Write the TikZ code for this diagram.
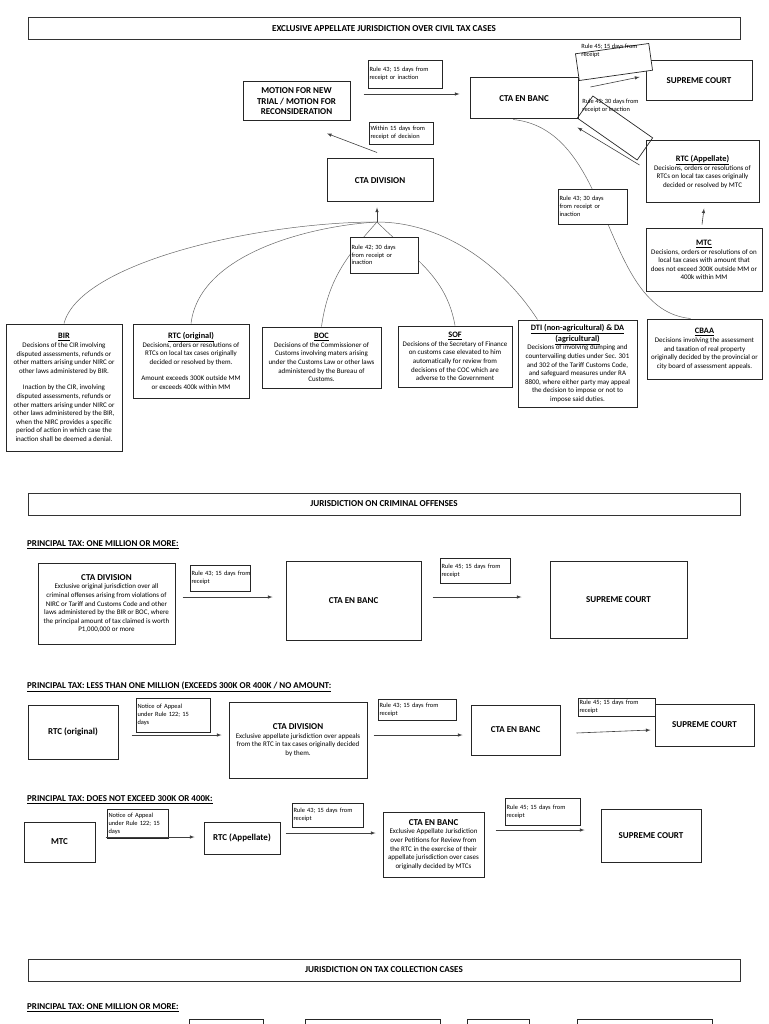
\documentclass[tikz,border=0pt]{standalone}
\usepackage{fontspec}
\setmainfont{Carlito}
\usetikzlibrary{arrows}

\tikzset{
  court/.style={draw=black!85,fill=white,line width=1pt,align=center,inner sep=1.5pt,
    font=\fontsize{7}{8.6}\selectfont},
  ctahead/.style={font=\fontsize{9}{10.5}\bfseries\selectfont},
  rulebox/.style={draw=black!85,fill=white,line width=0.7pt,align=left,inner xsep=1.5pt,inner ysep=2.5pt,
    font=\fontsize{6.4}{7.8}\selectfont},
  banner/.style={draw=black!80,line width=1pt,minimum width=712pt,minimum height=22pt,
    font=\fontsize{9.1}{11}\bfseries\selectfont},
  tierhead/.style={anchor=west,inner sep=0pt,font=\fontsize{9}{11}\bfseries\selectfont},
  flow/.style={draw=black!75,line width=0.6pt,->,>=latex},
  branch/.style={draw=black!60,line width=0.5pt}
}
\newcommand{\court}[7][]{\node[court,minimum width=#5pt,minimum height=#6pt,#1] (#2) at (#3,#4) {#7};}
\newcommand{\rulebox}[6]{\node[rulebox,minimum width=#4pt,minimum height=#5pt,text width=#4pt-3pt] (#1) at (#2,#3) {#6};}
\newcommand{\ctahd}[1]{{\fontsize{9}{10.5}\bfseries\selectfont #1}}
\newcommand{\ctitle}[1]{{\fontsize{8.3}{10}\bfseries\selectfont\underline{#1}}}
\newcommand{\flow}[2]{\draw[flow] (#1) -- (#2);}

\begin{document}
\begin{tikzpicture}[x=1pt,y=-1pt]
    \clip (0,0) rectangle (768,1024);
    \node[banner] (civil) at (384,28.5) {EXCLUSIVE APPELLATE JURISDICTION OVER CIVIL TAX CASES};
    \court[ctahead]{motion}{296.5}{101.5}{107}{39}{MOTION FOR NEW\\TRIAL / MOTION FOR\\RECONSIDERATION}
    \court[ctahead]{ebanc}{524}{98.5}{108}{41}{CTA EN BANC}
    \court[ctahead]{sc}{699}{81}{106}{40}{SUPREME COURT}
    \court[ctahead]{div}{380}{180.5}{106}{43}{CTA DIVISION}
    \court{rtcapp}{702.5}{172}{113}{62}{\ctitle{RTC (Appellate)}\\Decisions, orders or resolutions of\\RTCs on local tax cases originally\\decided or resolved by MTC}
    \court{mtc}{704}{260}{116}{62}{\ctitle{MTC}\\Decisions, orders or resolutions of on\\local tax cases with amount that\\does not exceed 300K outside MM or\\400k within MM}
    \court{bir}{64}{387.5}{116}{127}{\ctitle{BIR}\\Decisions of the CIR involving\\disputed assessments, refunds or\\other matters arising under NIRC or\\other laws administered by BIR.\\[8pt]Inaction by the CIR, involving\\disputed assessments, refunds or\\other matters arising under NIRC or\\other laws administered by the BIR,\\when the NIRC provides a specific\\period of action in which case the\\inaction shall be deemed a denial.}
    \court{rtco}{191}{361}{116}{74}{\ctitle{RTC (original)}\\Decisions, orders or resolutions of\\RTCs on local tax cases originally\\decided or resolved by them.\\[8pt]Amount exceeds 300K outside MM\\or exceeds 400k within MM}
    \court{boc}{321.5}{357.5}{119}{61}{\ctitle{BOC}\\Decisions of the Commissioner of\\Customs involving maters arising\\under the Customs Law or other laws\\administered by the Bureau of\\Customs.}
    \court{sof}{455}{356.5}{114}{61}{\ctitle{SOF}\\Decisions of the Secretary of Finance\\on customs case elevated to him\\automatically for review from\\decisions of the COC which are\\adverse to the Government}
    \court{dti}{577.5}{363.5}{119}{87}{\ctitle{DTI (non-agricultural) \& DA}\\\ctitle{(agricultural)}\\Decisions of involving dumping and\\countervailing duties under Sec. 301\\and 302 of the Tariff Customs Code,\\and safeguard measures under RA\\8800, where either party may appeal\\the decision to impose or not to\\impose said duties.}
    \court{cbaa}{704.5}{349}{115}{60}{\ctitle{CBAA}\\Decisions involving the assessment\\and taxation of real property\\originally decided by the provincial or\\city board of assessment appeals.}

    \coordinate (apex) at (377,222);
    \draw[branch] (apex) .. controls (260,222) and (80,262) .. (bir.north);
    \draw[branch] (apex) .. controls (320,225) and (200,250) .. (rtco.north);
    \draw[branch] (apex) to[out=228,in=82] (boc.north);
    \draw[branch] (apex) to[out=-45,in=100] (sof.north);
    \draw[branch] (apex) .. controls (440,222) and (500,262) .. ([xshift=20pt]dti.north west);
    \draw[branch] ([xshift=-11pt]ebanc.south) .. controls (615,130) and (600,310) .. ([xshift=-14pt]cbaa.north);
    \flow{apex}{[xshift=-3pt,yshift=-5pt]div.south}
    \flow{[xshift=-3pt,yshift=6pt]div.north}{[xshift=30.5pt,yshift=-12pt]motion.south}
    \flow{[xshift=13pt,yshift=7.5pt]motion.east}{[xshift=-10pt,yshift=4.5pt]ebanc.west}
    \flow{[xshift=12pt,yshift=11.5pt]ebanc.east}{[xshift=-6pt,yshift=4pt]sc.west}
    \flow{[xshift=-6pt,yshift=7pt]rtcapp.west}{[xshift=-1pt,yshift=-8pt]ebanc.south east}
    \flow{[xshift=-2pt,yshift=4pt]mtc.north}{[xshift=1.5pt,yshift=-5pt]rtcapp.south}

    \rulebox{rtop}{405}{74}{74}{28}{Rule 43; 15 days from\\receipt or inaction}
    \rulebox{within}{401}{133}{64}{22}{Within 15 days from\\receipt of decision}
    \rulebox{rfortytwo}{384}{255}{68}{36}{Rule 42; 30 days\\from receipt or\\inaction}
    \rulebox{rside}{592.5}{206.5}{69}{35}{Rule 43; 30 days\\from receipt or\\inaction}
    \node[rulebox,rotate=8,minimum width=74pt,minimum height=27pt] (rfivebox) at (614,62) {};
    \node[rulebox,fill=none,draw=none,anchor=north west,inner sep=0pt] (rfivetxt) at (581,44) {Rule 45; 15 days from\\receipt};
    \node[rulebox,fill=none,rotate=-35,minimum width=73pt,minimum height=27pt] (rthreebox) at (615,128) {};
    \node[rulebox,fill=none,draw=none,anchor=north west,inner sep=0pt] (rthreetxt) at (582,99) {Rule 43; 30 days from\\receipt or inaction};

    \node[banner] (criminal) at (384,504) {JURISDICTION ON CRIMINAL OFFENSES};
    \node[tierhead] (tierone) at (27,545) {\underline{PRINCIPAL TAX: ONE MILLION OR MORE:}};
    \court{cdiv}{106.5}{603.5}{137}{81}{\ctahd{CTA DIVISION}\\Exclusive original jurisdiction over all\\criminal offenses arising from violations of\\NIRC or Tariff and Customs Code and other\\laws administered by the BIR or BOC, where\\the principal amount of tax claimed is worth\\P1,000,000 or more}
    \court[ctahead]{cebanc}{353.5}{600.5}{135}{79}{CTA EN BANC}
    \court[ctahead]{csc}{618.5}{599.5}{137}{77}{SUPREME COURT}
    \rulebox{crone}{220}{578}{60}{26}{\mbox{Rule 43; 15 days from}\\receipt}
    \rulebox{crtwo}{475}{570.5}{70}{25}{Rule 45; 15 days from\\receipt}
    \flow{[xshift=7pt,yshift=6.5pt]cdiv.east}{[xshift=-13pt,yshift=3.5pt]cebanc.west}
    \flow{[xshift=11pt,yshift=3.5pt]cebanc.east}{[xshift=-28pt,yshift=2.5pt]csc.west}

    \node[tierhead] (tiertwo) at (27,687) {\underline{PRINCIPAL TAX: LESS THAN ONE MILLION (EXCEEDS 300K OR 400K / NO AMOUNT:}};
    \court[ctahead]{mrtc}{73}{732}{90}{54}{RTC (original)}
    \court{mdiv}{298}{740}{138}{76}{\ctahd{CTA DIVISION}\\Exclusive appellate jurisdiction over appeals\\from the RTC in tax cases originally decided\\by them.}
    \court[ctahead]{mebanc}{515.5}{730}{89}{50}{CTA EN BANC}
    \court[ctahead]{msc}{704.5}{725}{99}{42}{SUPREME COURT}
    \rulebox{mnotice}{173}{715}{74}{34}{Notice of Appeal\\under Rule 122; 15\\days}
    \rulebox{mrone}{417}{709.5}{78}{21}{Rule 43; 15 days from\\receipt}
    \rulebox{mrtwo}{616.5}{707}{77}{18}{Rule 45; 15 days from\\receipt}
    \flow{[xshift=13pt,yshift=-3pt]mrtc.east}{[xshift=-7pt,yshift=5pt]mdiv.west}
    \flow{[xshift=6pt,yshift=5pt]mdiv.east}{[xshift=-8pt,yshift=-5pt]mebanc.west}
    \flow{[xshift=16pt,yshift=-3pt]mebanc.east}{[xshift=-4pt,yshift=-5pt]msc.west}

    \node[tierhead] (tierthree) at (27,800) {\underline{PRINCIPAL TAX: DOES NOT EXCEED 300K OR 400K:}};
    \court[ctahead]{lmtc}{59.5}{842}{71}{40}{MTC}
    \court[ctahead]{lrtc}{242}{838}{76}{32}{RTC (Appellate)}
    \court{lebanc}{433.5}{844.5}{101}{65}{\ctahd{CTA EN BANC}\\Exclusive Appellate Jurisdiction\\over Petitions for Review from\\the RTC in the exercise of their\\appellate jurisdiction over cases\\originally decided by MTCs}
    \court[ctahead]{lsc}{651}{835.5}{100}{53}{SUPREME COURT}
    \rulebox{lnotice}{137.5}{823.5}{61}{29}{Notice of Appeal\\under Rule 122; 15\\days}
    \rulebox{lrone}{327.5}{815}{71}{24}{Rule 43; 15 days from\\receipt}
    \rulebox{lrtwo}{542.5}{811.5}{75}{27}{Rule 45; 15 days from\\receipt}
    \flow{[xshift=10pt,yshift=5pt]lmtc.east}{[xshift=-9pt,yshift=1pt]lrtc.west}
    \flow{[xshift=5pt,yshift=5pt]lrtc.east}{[xshift=-7pt,yshift=11.5pt]lebanc.west}
    \flow{[xshift=11pt,yshift=14.5pt]lebanc.east}{[xshift=-16pt,yshift=5.5pt]lsc.west}

    \node[banner] (collection) at (384,970) {JURISDICTION ON TAX COLLECTION CASES};
    \node[tierhead] (tierfour) at (27,1008) {\underline{PRINCIPAL TAX: ONE MILLION OR MORE:}};
    \court{collone}{226}{1034}{74}{30}{}
    \court{colltwo}{372.5}{1034}{135}{30}{}
    \rulebox{collrule}{498}{1034}{62}{30}{}
    \court{collfour}{644.5}{1034}{135}{30}{}
\end{tikzpicture}
\end{document}
